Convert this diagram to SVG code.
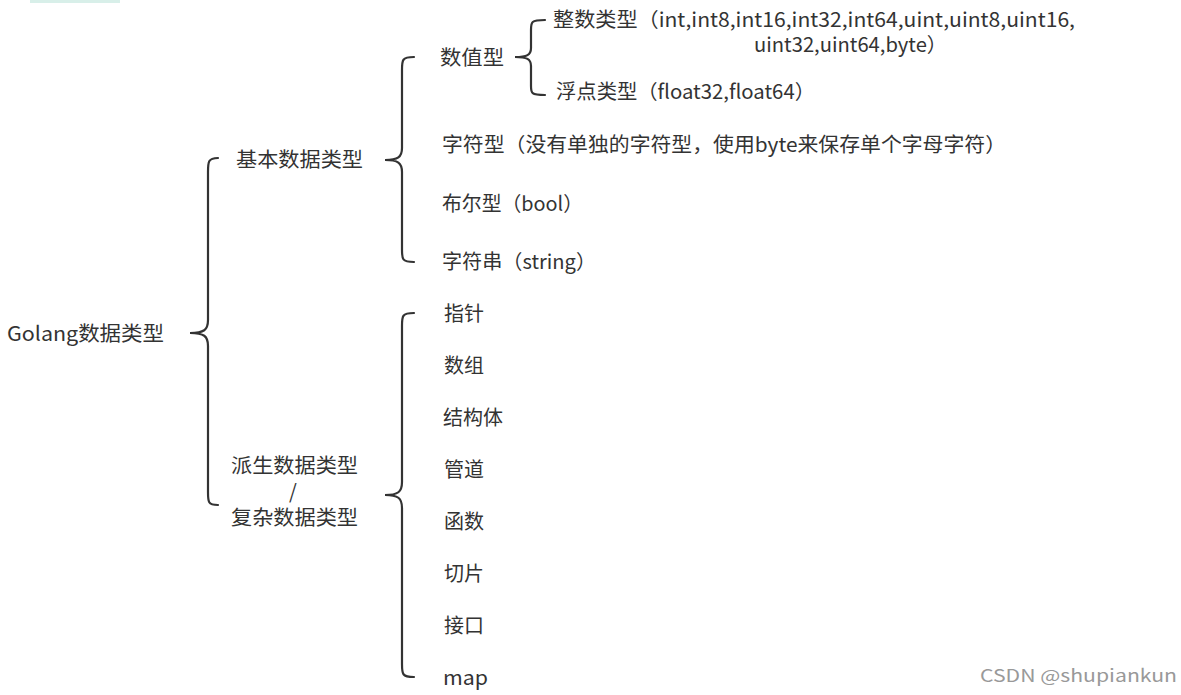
<svg xmlns="http://www.w3.org/2000/svg" width="1181" height="695" viewBox="0 0 1181 695">
<style>
text{font-family:"Noto Sans CJK SC","Noto Sans",sans-serif;font-size:20px;fill:#333}
.b{fill:none;stroke:#333;stroke-width:2.2;stroke-linecap:round}
.wm{font-size:17px;fill:#999}
</style>
<rect width="1181" height="695" fill="#fff"/>
<rect x="30" y="0" width="90" height="3" fill="#d8efe9"/>
<g id="connectors">
<path class="b" d="M218,158 C208,158 208,162 208,172 L208,320 C208,330 204,333 190,333 C204,333 208,336 208,346 L208,492 C208,502 208,505 218,505"/>
<path class="b" d="M414,57 C402,57 402,60 402,70 L402,148 C402,157 398,160 385,160 C398,160 402,163 402,172 L402,250 C402,259 402,262 414,262"/>
<path class="b" d="M545,20 C531,20 531,22 531,30 L531,48 C531,55 527,57 515,57 C527,57 531,59 531,66 L531,86 C531,93 531,95 545,95"/>
<path class="b" d="M414,313 C402,313 402,316 402,326 L402,482 C402,492 398,495 385,495 C398,495 402,498 402,508 L402,664 C402,674 402,677 414,677"/>
</g>
<g id="root"><text x="7" y="341" textLength="157" lengthAdjust="spacingAndGlyphs">Golang数据类型</text></g>
<g id="basic"><text x="236" y="167" textLength="127" lengthAdjust="spacingAndGlyphs">基本数据类型</text></g>
<g id="derived"><text x="231" y="473" textLength="127" lengthAdjust="spacingAndGlyphs">派生数据类型</text><text x="289" y="499">/</text><text x="231" y="525" textLength="127" lengthAdjust="spacingAndGlyphs">复杂数据类型</text></g>
<g id="numeric"><text x="440" y="65" textLength="64" lengthAdjust="spacingAndGlyphs">数值型</text></g>
<g id="int"><text x="553" y="27" textLength="522" lengthAdjust="spacingAndGlyphs">整数类型（int,int8,int16,int32,int64,uint,uint8,uint16,</text><text x="754" y="52" textLength="193" lengthAdjust="spacingAndGlyphs">uint32,uint64,byte）</text></g>
<g id="float"><text x="556" y="99" textLength="259" lengthAdjust="spacingAndGlyphs">浮点类型（float32,float64）</text></g>
<g id="char"><text x="442" y="152" textLength="564" lengthAdjust="spacingAndGlyphs">字符型（没有单独的字符型，使用byte来保存单个字母字符）</text></g>
<g id="bool"><text x="442" y="211" textLength="141" lengthAdjust="spacingAndGlyphs">布尔型（bool）</text></g>
<g id="string"><text x="442" y="269" textLength="154" lengthAdjust="spacingAndGlyphs">字符串（string）</text></g>
<g id="ptr"><text x="444" y="321">指针</text></g>
<g id="arr"><text x="444" y="373">数组</text></g>
<g id="struct"><text x="443" y="425">结构体</text></g>
<g id="chan"><text x="444" y="477">管道</text></g>
<g id="func"><text x="444" y="529">函数</text></g>
<g id="slice"><text x="444" y="581">切片</text></g>
<g id="iface"><text x="444" y="633">接口</text></g>
<g id="map"><text x="443" y="685" textLength="45" lengthAdjust="spacingAndGlyphs">map</text></g>
<text class="wm" x="980" y="682" textLength="197" lengthAdjust="spacingAndGlyphs">CSDN @shupiankun</text>
</svg>
